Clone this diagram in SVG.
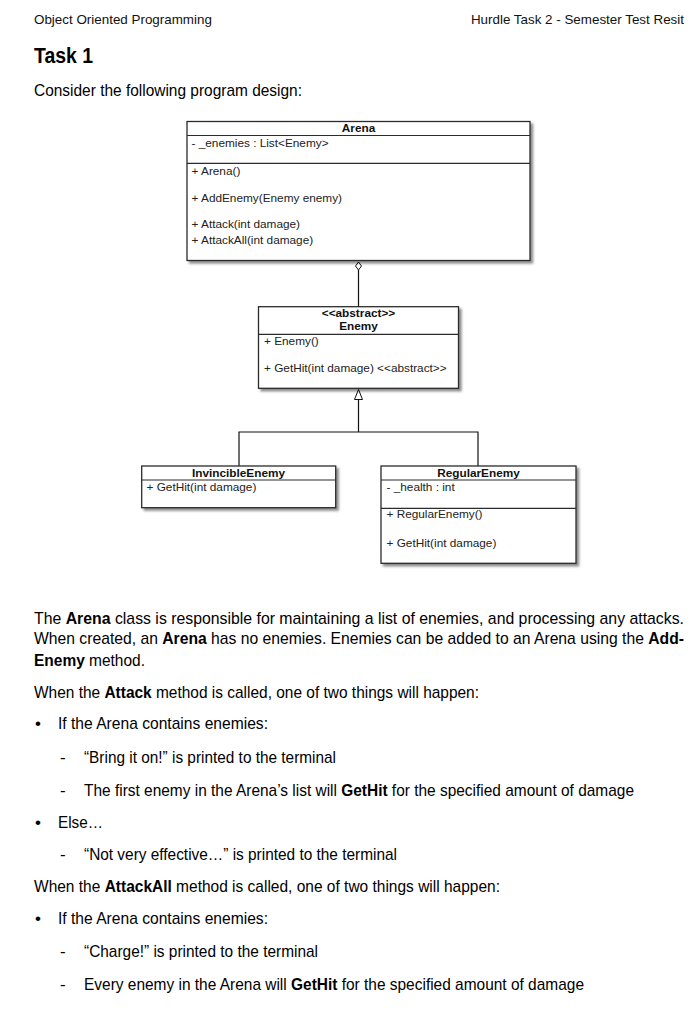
<svg xmlns="http://www.w3.org/2000/svg" width="699" height="1018" viewBox="0 0 699 1018">
<defs>
<style>
.hdr{font-family:"Liberation Sans",Arial,sans-serif;font-size:13.4px;fill:#111}
.h1{font-family:"Liberation Sans",Arial,sans-serif;font-size:22px;font-weight:bold;fill:#000}
.body{font-family:"Liberation Sans",Arial,sans-serif;font-size:17px;fill:#000}
.b{font-weight:bold}
.uml{font-family:"Liberation Sans",Arial,sans-serif;font-size:11.8px;fill:#222}
.umlt{font-family:"Liberation Sans",Arial,sans-serif;font-size:11.8px;font-weight:bold;fill:#111;text-anchor:middle}
.box{fill:#fff;stroke:#2b2b2b;stroke-width:1.3}
.div{stroke:#2b2b2b;stroke-width:1.2}
.con{fill:none;stroke:#111;stroke-width:1.2}
</style>
<filter id="sh" x="-10%" y="-10%" width="130%" height="130%">
<feDropShadow dx="2.5" dy="2.5" stdDeviation="1.2" flood-color="#000" flood-opacity="0.45"/>
</filter>
</defs>
<rect width="699" height="1018" fill="#fff"/>

<text class="hdr" x="34" y="24">Object Oriented Programming</text>
<text class="hdr" x="684" y="24" text-anchor="end">Hurdle Task 2 - Semester Test Resit</text>
<text class="h1" x="34" y="63" textLength="59" lengthAdjust="spacingAndGlyphs">Task 1</text>
<text class="body" x="34" y="96" textLength="268" lengthAdjust="spacingAndGlyphs">Consider the following program design:</text>

<g id="connectors">
<line class="con" x1="358.5" y1="270" x2="358.5" y2="307"/>
<polygon points="358.5,262 361.5,266 358.5,270 355.5,266" fill="#fff" stroke="#111" stroke-width="1"/>
<line class="con" x1="358.5" y1="399" x2="358.5" y2="432"/>
<polyline class="con" points="239,466 239,432 478,432 478,466"/>
<polygon points="358.5,389.5 362.5,399.5 354.5,399.5" fill="#fff" stroke="#111" stroke-width="1"/>
</g>

<g id="arena">
<rect class="box" x="187" y="121.5" width="343" height="139" filter="url(#sh)"/>
<line class="div" x1="187" y1="135.5" x2="530" y2="135.5"/>
<line class="div" x1="187" y1="163.3" x2="530" y2="163.3"/>
<text class="umlt" x="358.5" y="132.3">Arena</text>
<text class="uml" x="191.5" y="146.7">- _enemies : List&lt;Enemy&gt;</text>
<text class="uml" x="191.5" y="175">+ Arena()</text>
<text class="uml" x="191.5" y="201.7">+ AddEnemy(Enemy enemy)</text>
<text class="uml" x="191.5" y="228">+ Attack(int damage)</text>
<text class="uml" x="191.5" y="243.5">+ AttackAll(int damage)</text>
</g>

<g id="enemy">
<rect class="box" x="258.5" y="306.7" width="200" height="81.6" filter="url(#sh)"/>
<line class="div" x1="258.5" y1="334.3" x2="458.5" y2="334.3"/>
<text class="umlt" x="358.5" y="316.7">&lt;&lt;abstract&gt;&gt;</text>
<text class="umlt" x="358.5" y="330">Enemy</text>
<text class="uml" x="264" y="345">+ Enemy()</text>
<text class="uml" x="264" y="372.3">+ GetHit(int damage) &lt;&lt;abstract&gt;&gt;</text>
</g>

<g id="invincible-enemy">
<rect class="box" x="141.7" y="466" width="194" height="41.7" filter="url(#sh)"/>
<line class="div" x1="141.7" y1="480" x2="335.7" y2="480"/>
<text class="umlt" x="238.5" y="477.3">InvincibleEnemy</text>
<text class="uml" x="146.5" y="490.7">+ GetHit(int damage)</text>
</g>

<g id="regular-enemy">
<rect class="box" x="381" y="466" width="195" height="97.3" filter="url(#sh)"/>
<line class="div" x1="381" y1="480" x2="576" y2="480"/>
<line class="div" x1="381" y1="508.3" x2="576" y2="508.3"/>
<text class="umlt" x="478.5" y="477.3">RegularEnemy</text>
<text class="uml" x="386.5" y="490.7">- _health : int</text>
<text class="uml" x="386.5" y="518.3">+ RegularEnemy()</text>
<text class="uml" x="386.5" y="546.7">+ GetHit(int damage)</text>
</g>

<g id="text">
<text class="body" x="34" y="624" textLength="650" lengthAdjust="spacingAndGlyphs">The <tspan class="b">Arena</tspan> class is responsible for maintaining a list of enemies, and processing any attacks.</text>
<text class="body" x="34" y="644" textLength="650" lengthAdjust="spacingAndGlyphs">When created, an <tspan class="b">Arena</tspan> has no enemies. Enemies can be added to an Arena using the <tspan class="b">Add-</tspan></text>
<text class="body" x="34" y="666" textLength="111" lengthAdjust="spacingAndGlyphs"><tspan class="b">Enemy</tspan> method.</text>
<text class="body" x="34" y="698" textLength="445" lengthAdjust="spacingAndGlyphs">When the <tspan class="b">Attack</tspan> method is called, one of two things will happen:</text>
<text class="body" x="35" y="729">•</text>
<text class="body" x="58" y="729" textLength="210" lengthAdjust="spacingAndGlyphs">If the Arena contains enemies:</text>
<text class="body" x="60" y="763">-</text>
<text class="body" x="84" y="763" textLength="252" lengthAdjust="spacingAndGlyphs">“Bring it on!” is printed to the terminal</text>
<text class="body" x="60" y="796">-</text>
<text class="body" x="84" y="796" textLength="550" lengthAdjust="spacingAndGlyphs">The first enemy in the Arena’s list will <tspan class="b">GetHit</tspan> for the specified amount of damage</text>
<text class="body" x="35" y="828">•</text>
<text class="body" x="58" y="828" textLength="45" lengthAdjust="spacingAndGlyphs">Else…</text>
<text class="body" x="60" y="860">-</text>
<text class="body" x="84" y="860" textLength="313" lengthAdjust="spacingAndGlyphs">“Not very effective…” is printed to the terminal</text>
<text class="body" x="34" y="892" textLength="466" lengthAdjust="spacingAndGlyphs">When the <tspan class="b">AttackAll</tspan> method is called, one of two things will happen:</text>
<text class="body" x="35" y="924">•</text>
<text class="body" x="58" y="924" textLength="210" lengthAdjust="spacingAndGlyphs">If the Arena contains enemies:</text>
<text class="body" x="60" y="957">-</text>
<text class="body" x="84" y="957" textLength="234" lengthAdjust="spacingAndGlyphs">“Charge!” is printed to the terminal</text>
<text class="body" x="60" y="990">-</text>
<text class="body" x="84" y="990" textLength="500" lengthAdjust="spacingAndGlyphs">Every enemy in the Arena will <tspan class="b">GetHit</tspan> for the specified amount of damage</text>
</g>
</svg>
